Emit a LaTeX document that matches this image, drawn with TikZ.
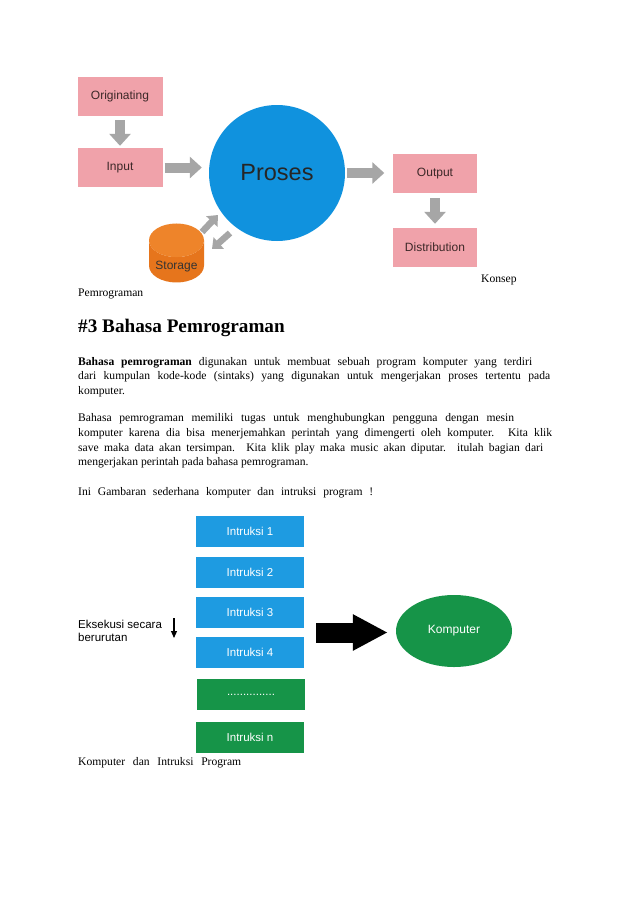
\documentclass[tikz,border=0pt]{standalone}
\usepackage{fontspec}
\setmainfont{Liberation Serif}
\newfontfamily\arialf{Liberation Sans}
\usetikzlibrary{shapes.geometric,arrows.meta,calc}
\definecolor{pinkfill}{RGB}{240,162,170}
\definecolor{greyarr}{RGB}{166,166,166}
\definecolor{proseblue}{RGB}{16,146,222}
\definecolor{boxblue}{RGB}{30,155,225}
\definecolor{boxgreen}{RGB}{22,148,72}
\definecolor{storor}{RGB}{230,117,28}
\definecolor{storlight}{RGB}{238,132,42}
\definecolor{labeltxt}{RGB}{60,40,40}
\newcommand\jline[2]{\makebox[#1][s]{#2}}
\tikzset{
  pinkbox/.style={fill=pinkfill, minimum width=85pt, minimum height=39pt, inner sep=0pt,
    font=\arialf\fontsize{12}{14}\selectfont, text=labeltxt},
  garrow/.style={draw=greyarr, line width=10pt, -{Triangle[width=21pt,length=12pt]}},
  sarrow/.style={draw=greyarr, line width=6.5pt, -{Triangle[width=15pt,length=9pt]}},
  instbox/.style={minimum width=108pt, minimum height=31pt, inner sep=0pt,
    font=\arialf\fontsize{11.5}{13}\selectfont, text=white},
  bluebox/.style={instbox, fill=boxblue},
  greenbox/.style={instbox, fill=boxgreen},
  bodytext/.style={anchor=base west, inner sep=0pt, font=\fontsize{11.6}{14}\selectfont},
}
\begin{document}
\begin{tikzpicture}[x=1pt,y=-1pt]
\useasboundingbox[fill=white] (0,0) rectangle (638,902);
% top diagram
\node[pinkbox] (orig) at (120,96.5) {Originating};
\node[pinkbox] (input) at (120,167.5) {Input};
\node[circle, fill=proseblue, minimum size=136pt, inner sep=0pt,
  font=\arialf\fontsize{23.5}{27}\selectfont, text=black!85] (proses) at (277,173) {Proses};
\node[pinkbox, minimum width=84pt] (output) at (435,173.5) {Output};
\node[pinkbox, minimum width=84pt] (distr) at (435,247) {Distribution};
\node[cylinder, shape border rotate=90, aspect=0.8, minimum width=55pt, minimum height=59pt,
  inner sep=0pt, draw=none, cylinder uses custom fill, cylinder body fill=storor,
  cylinder end fill=storlight, font=\arialf\fontsize{12}{14}\selectfont, text=black!80]
  (storage) at (176.5,261.5) {\smash{\raisebox{-8pt}{Storage}}};
\draw[garrow, shorten <=4pt, shorten >=2pt] (orig) -- (input);
\draw[garrow, shorten <=2pt, shorten >=7pt] (input.east) -- (input.east -| proses.west);
\draw[garrow, shorten <=2pt, shorten >=8.5pt] (proses.east) -- (proses.east -| output.west);
\draw[garrow, shorten <=5pt, shorten >=3.5pt] (output) -- (distr);
\coordinate (s1a) at (202,232);
\coordinate (s1b) at (218,215);
\coordinate (s2a) at (230,233);
\coordinate (s2b) at (212,249);
\draw[sarrow] (s1a) -- (s1b);
\draw[sarrow] (s2a) -- (s2b);
\node[bodytext] (konsep) at (481,282) {Konsep};
\node[bodytext] (pemcap) at (78,296) {Pemrograman};
% heading and text
\node[anchor=base west, inner sep=0pt, font=\bfseries\fontsize{19.2}{23}\selectfont] (head) at (78,332) {\#3 Bahasa Pemrograman};
\node[bodytext] (p1a) at (78,365) {\jline{454pt}{\textbf{Bahasa pemrograman} digunakan untuk membuat sebuah program komputer yang terdiri}};
\node[bodytext] (p1b) at (78,379.5) {\jline{472pt}{dari kumpulan kode-kode (sintaks) yang digunakan untuk mengerjakan proses tertentu pada}};
\node[bodytext] (p1c) at (78,394) {komputer.};
\node[bodytext] (p2a) at (78,421.7) {\jline{436pt}{Bahasa pemrograman memiliki tugas untuk menghubungkan pengguna dengan mesin}};
\node[bodytext] (p2b) at (78,436.5) {\jline{474pt}{komputer karena dia bisa menerjemahkan perintah yang dimengerti oleh komputer. Kita klik}};
\node[bodytext] (p2c) at (78,451) {\jline{465pt}{save maka data akan tersimpan. Kita klik play maka music akan diputar. itulah bagian dari}};
\node[bodytext] (p2d) at (78,465.7) {mengerjakan perintah pada bahasa pemrograman.};
\node[bodytext] (p3) at (78,495.7) {\jline{295pt}{Ini Gambaran sederhana komputer dan intruksi program !}};
% bottom diagram
\node[bluebox] (i1) at (250,531.5) {Intruksi 1};
\node[bluebox] (i2) at (250,572.5) {Intruksi 2};
\node[bluebox] (i3) at (250,612.5) {Intruksi 3};
\node[bluebox] (i4) at (250,652.5) {Intruksi 4};
\node[greenbox] (idots) at (251,694.5) {\smash{\raisebox{-1pt}{...............}}};
\node[greenbox] (in) at (250,737.5) {Intruksi n};
\node[ellipse, fill=boxgreen, minimum width=116pt, minimum height=72pt, inner sep=0pt,
  font=\arialf\fontsize{12}{14}\selectfont, text=white] (kom) at (454,631) {Komputer};
\node[anchor=west, inner sep=0pt, align=left, font=\arialf\fontsize{11.5}{13}\selectfont] (eks) at (78,630.5) {Eksekusi secara\\berurutan};
\coordinate (da) at (174,618);
\coordinate (db) at (174,638);
\draw[line width=1.1pt, -{Triangle[width=6pt,length=7pt]}] (da) -- (db);
\coordinate (ibmid) at ($(i3.south east)!0.5!(i4.north east)$);
\draw[line width=20pt, -{Triangle[width=34pt,length=35pt]}, shorten <=12pt, shorten >=8pt] (ibmid) -- (ibmid -| kom.west);
\node[bodytext] (cap2) at (78,765.7) {\jline{163pt}{Komputer dan Intruksi Program}};
\end{tikzpicture}
\end{document}
